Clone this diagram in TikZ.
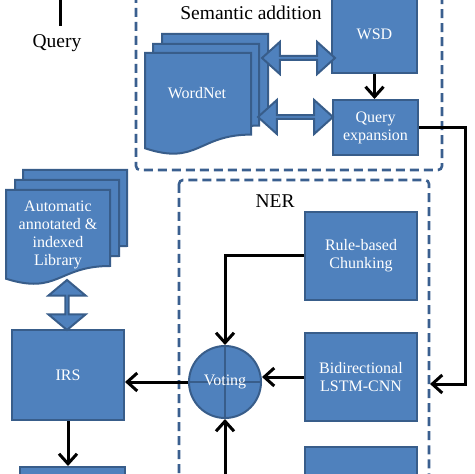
\documentclass[tikz,border=0pt]{standalone}
\usepackage{fontspec}
\setmainfont{Liberation Serif}
\usetikzlibrary{arrows.meta,shapes.arrows}
\definecolor{boxblue}{HTML}{4F81BD}
\definecolor{boxedge}{HTML}{385D8A}
\definecolor{dashblue}{HTML}{3A5F8F}
\begin{document}
\begin{tikzpicture}[x=0.5pt, y=-0.5pt,
      box/.style = {shape=rectangle, draw=boxedge, fill=boxblue,
        line width=1pt, text=white, align=center, inner sep=2pt,
        font=\fontsize{8}{9}\selectfont},
      docfill/.style = {draw=boxedge, fill=boxblue, line width=1pt},
      dblarrow/.style = {double arrow, draw=boxedge, fill=boxblue,
        line width=1pt, inner sep=0pt},
      flow/.style = {line width=1.5pt, -{Straight Barb[length=5pt,width=9pt]}},
      group/.style = {draw=dashblue, line width=1.3pt, rounded corners=2pt,
        dash pattern=on 4.5pt off 2.5pt},
      title/.style = {font=\fontsize{9.75}{11}\selectfont},
      pics/docpage/.style args = {#1/#2}{code={
        \draw[docfill] (0,0) -- (#1,0) -- (#1,0.8*#2)
          .. controls (0.5*#1,0.8*#2) and (0.5*#1,1.107*#2) .. (0,0.934*#2) -- cycle;}}]
  \clip (0,0) rectangle (474,474);
  \fill[white] (0,0) rectangle (474,474);

  \draw[group] (136,-10) rectangle (442,170);
  \draw[group] (179,180) rectangle (429,490);
  \node[title] (semtitle) at (251,13) {Semantic addition};
  \node[title] (nertitle) at (275,201) {NER};

  \node[title] (query) at (57,43) {Query};
  \coordinate (qsrc) at (60,-6);
  \coordinate (qend) at (60,26);
  \draw[line width=1.5pt] (qsrc) -- (qend);

  \pic at (162,34) {docpage=106/102};
  \pic at (153,44) {docpage=106/102};
  \pic at (145,53) {docpage=106/102};
  \node[box, draw=none, fill=none] (wordnet) at (197,93) {WordNet};

  \node[box, minimum width=42.5pt, minimum height=38.5pt] (wsd) at (374.5,34.5) {WSD};
  \node[box, minimum width=42.5pt, minimum height=27.5pt] (qexp) at (375.5,127.5) {Query\\expansion};
  \node[dblarrow, minimum height=36.5pt, minimum width=16pt,
    double arrow head extend=3.5pt, double arrow tip angle=84] (wnwsd) at (298.5,58) {};
  \node[dblarrow, minimum height=37.5pt, minimum width=17pt,
    double arrow head extend=4pt, double arrow tip angle=84] (wnqexp) at (295.5,117) {};
  \draw[flow] (wsd.south) -- (wsd.south |- qexp.north);

  \node[box, minimum width=56pt, minimum height=44pt] (rule) at (361,256) {Rule-based\\Chunking};
  \node[box, minimum width=56pt, minimum height=44pt] (lstm) at (361,377) {Bidirectional\\LSTM-CNN};
  \node[box, minimum width=56pt, minimum height=44pt] (third) at (361,491) {};

  \node[shape=circle, draw=boxedge, fill=boxblue, line width=1pt, minimum size=36pt,
    inner sep=0pt, text=white, font=\fontsize{8}{9}\selectfont,
    path picture={\draw[boxedge, line width=0.8pt]
      (path picture bounding box.north) -- (path picture bounding box.south)
      (path picture bounding box.west) -- (path picture bounding box.east);}]
    (vote) at (225,382) {Voting};

  \coordinate (qturn) at (465,384);
  \coordinate (nerin) at (430,384);
  \draw[flow] (qexp.east) -| (qturn) -- (nerin);
  \draw[flow] (rule.west) -| (vote.north);
  \draw[flow] (lstm.west) -- (lstm.west -| vote.east);
  \coordinate (votein) at (225,480);
  \draw[flow] (votein) -- (vote.south);

  \pic at (23,170) {docpage=104/95};
  \pic at (15,180) {docpage=104/95};
  \pic at (6,190) {docpage=104/95};
  \node[box, draw=none, fill=none] (library) at (58,235) {Automatic\\annotated \&\\indexed\\Library};

  \node[box, minimum width=56pt, minimum height=45pt] (irs) at (68,375) {IRS};
  \node[box, minimum width=52.5pt, minimum height=43pt] (output) at (72.5,510) {};
  \node[dblarrow, shape border rotate=90, minimum height=25pt, minimum width=18.5pt,
    double arrow head extend=5.5pt, double arrow tip angle=100] (libirs) at (67,305) {};
  \draw[flow] (vote.west) -- (vote.west -| irs.east);
  \draw[flow] (irs.south) -- (irs.south |- output.north);
\end{tikzpicture}
\end{document}
